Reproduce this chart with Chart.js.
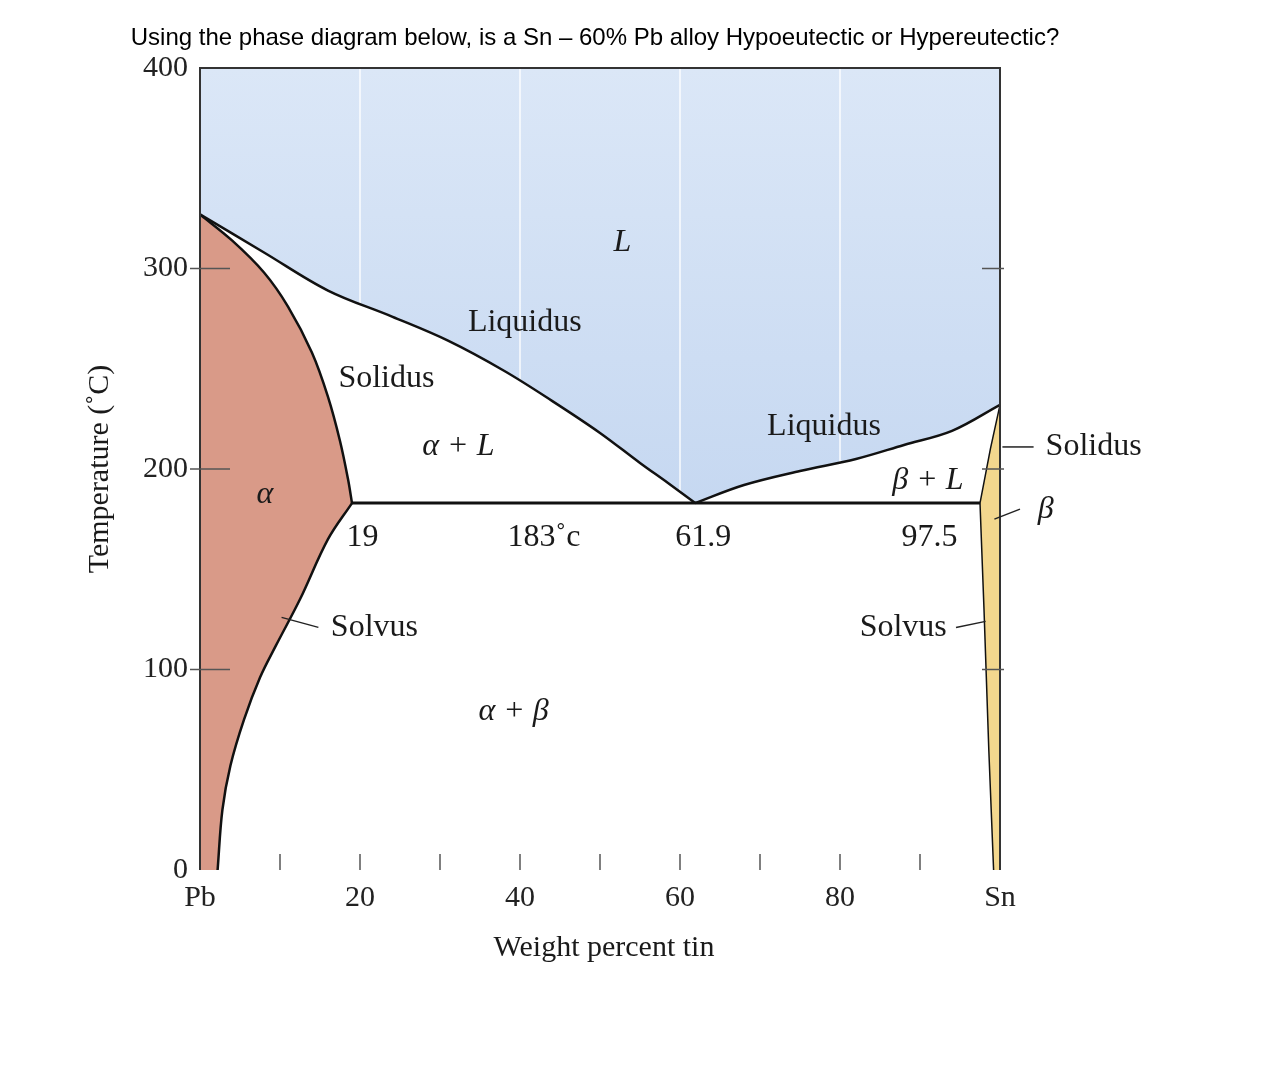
<!DOCTYPE html>
<html><head><meta charset="utf-8">
<script src="https://cdn.jsdelivr.net/npm/chart.js@4/dist/chart.umd.min.js"></script>
<style>html,body{margin:0;padding:0;background:#fff}#w{width:1286px;height:1085px}</style>
</head><body><div id="w"><canvas id="c"></canvas></div>
<script>
// Data (wt% Sn, temperature °C)
const liquidusLeft = [[0,327],[8,308],[16,289],[24,276],[31,264],[38,249],[44,234],[50,218],[55,203],[58.5,193],[61.9,183]];
const liquidusRight = [[61.9,183],[68,192],[75,199],[82,205],[88,212],[94,219],[100,232]];
const solidusLeft = [[0,327],[4,314],[8,298],[11,281],[14,258],[16,236],[17.5,214],[18.5,195],[19,183]];
const solvusLeft = [[19,183],[16,165],[12.5,135],[9.5,112],[7.5,96],[5.5,75],[3.8,52],[2.8,30],[2.2,0]];
const solidusRight = [[100,232],[98.8,210],[97.5,183]];
const solvusRight = [[97.5,183],[98,130],[98.6,60],[99.2,0]];
const eutectic = [[19,183],[97.5,183]];
const xTicks = [0,20,40,60,80,100];
const xTickLabels = {0:'Pb',20:'20',40:'40',60:'60',80:'80',100:'Sn'};
const yTicks = [0,100,200,300,400];
const labels = [
 ['L',52.8,313,'italic'],['Liquidus',40.6,273,''],['Solidus',23.3,245,''],['α + L',32.3,211,'italic'],
 ['α',8.1,187,'italic'],['19',20.3,166,''],['183˚c',43,166,''],['61.9',62.9,166,''],['97.5',91.2,166,''],
 ['Liquidus',78,221,''],['β + L',91,194,'italic'],['Solidus',111.7,211,''],['β',105.7,180,'italic'],
 ['Solvus',21.8,121,''],['Solvus',87.9,121,''],['α + β',39.2,79,'italic']
];
const pts = a => a.map(p=>({x:p[0],y:p[1]}));
const serif = '"Liberation Serif","DejaVu Serif",serif';

const plug = {
 id:'phase',
 beforeDatasetsDraw(ch){
  const {ctx,scales:{x,y}}=ch;
  const P=(a)=>{ctx.beginPath();a.forEach((p,i)=>{const X=x.getPixelForValue(p[0]),Y=y.getPixelForValue(p[1]);i?ctx.lineTo(X,Y):ctx.moveTo(X,Y);});ctx.closePath();};
  ctx.save();
  // liquid region
  const g=ctx.createLinearGradient(0,y.getPixelForValue(400),0,y.getPixelForValue(183));
  g.addColorStop(0,'#dbe7f7');g.addColorStop(1,'#c6d8f1');
  ctx.fillStyle=g;
  P([[0,400],...liquidusLeft,...liquidusRight.slice(1),[100,400]]);ctx.fill();
  // white grid lines in liquid
  ctx.strokeStyle='rgba(255,255,255,0.9)';ctx.lineWidth=1.5;
  [20,40,60,80].forEach(v=>{ctx.beginPath();ctx.moveTo(x.getPixelForValue(v),y.getPixelForValue(400));ctx.lineTo(x.getPixelForValue(v),y.getPixelForValue(0));ctx.stroke();});
  ctx.strokeStyle='rgba(215,215,215,0.5)';
  // alpha region
  ctx.fillStyle='#d99a88';
  P([...solidusLeft,...solvusLeft.slice(1),[0,0]]);ctx.fill();
  // beta region
  ctx.fillStyle='#f3d78e';
  P([[100,232],...solidusRight.slice(1),...solvusRight.slice(1),[100,0]]);ctx.fill();
  ctx.restore();
 },
 afterDatasetsDraw(ch){
  const {ctx,scales:{x,y},chartArea:a}=ch;
  const X=v=>x.getPixelForValue(v),Y=v=>y.getPixelForValue(v);
  ctx.save();
  ctx.strokeStyle='#333';ctx.lineWidth=2;
  ctx.beginPath();ctx.moveTo(a.left,a.bottom);ctx.lineTo(a.left,a.top);ctx.lineTo(a.right,a.top);ctx.lineTo(a.right,a.bottom);ctx.stroke();
  ctx.lineWidth=1.5;ctx.strokeStyle='#555';
  for(let v=10;v<100;v+=10){ctx.beginPath();ctx.moveTo(X(v),a.bottom);ctx.lineTo(X(v),a.bottom-16);ctx.stroke();}
  [100,200,300].forEach(v=>{ctx.beginPath();ctx.moveTo(a.left-10,Y(v));ctx.lineTo(a.left+30,Y(v));ctx.stroke();
   ctx.beginPath();ctx.moveTo(a.right-18,Y(v));ctx.lineTo(a.right+4,Y(v));ctx.stroke();});
  // leaders
  const L=(x1,y1,x2,y2)=>{ctx.beginPath();ctx.moveTo(X(x1),Y(y1));ctx.lineTo(X(x2),Y(y2));ctx.stroke();};
  ctx.strokeStyle='#222';ctx.lineWidth=1.5;
  L(100.3,211,104.2,211);L(99.3,175,102.5,180);L(10.2,126,14.8,121);L(94.5,121,98.2,124);
  ctx.fillStyle='#1a1a1a';ctx.textAlign='center';ctx.textBaseline='middle';
  labels.forEach(l=>{ctx.font=(l[3]?'italic ':'')+'32px '+serif;ctx.fillText(l[0],X(l[1]),Y(l[2]));});
  ctx.font='30px '+serif;
  ctx.fillText('Weight percent tin',X(50.5),948);
  ctx.save();ctx.translate(100,Y(200));ctx.rotate(-Math.PI/2);ctx.fillText('Temperature (˚C)',0,0);ctx.restore();
  ctx.font='24px "Liberation Sans",Arial,sans-serif';ctx.fillStyle='#000';
  ctx.fillText('Using the phase diagram below, is a Sn – 60% Pb alloy Hypoeutectic or Hypereutectic?',595,38);
  ctx.restore();
 }
};
const line=(d)=>({data:pts(d),showLine:true,borderColor:'#111',borderWidth:2.5,pointRadius:0,tension:0.35,fill:false});
new Chart(document.getElementById('c'),{
 type:'scatter',
 data:{datasets:[line(liquidusLeft),line(liquidusRight),line(solidusLeft),line(solvusLeft),
   {...line(solidusRight),tension:0,borderWidth:1.5},{...line(solvusRight),tension:0,borderWidth:1.5},{...line(eutectic),tension:0,borderWidth:3}]},
 options:{responsive:true,maintainAspectRatio:false,animation:false,
  layout:{padding:{left:140,top:68,right:286,bottom:85}},
  plugins:{legend:{display:false},tooltip:{enabled:false}},
  scales:{
   x:{type:'linear',min:0,max:100,afterBuildTicks:s=>{s.ticks=xTicks.map(v=>({value:v}));},
      afterFit:s=>{s.height=130;},grid:{display:false},border:{display:false},
      ticks:{padding:2,color:'#222',font:{size:30,family:serif},callback:v=>xTickLabels[v]}},
   y:{type:'linear',min:0,max:400,afterBuildTicks:s=>{s.ticks=yTicks.map(v=>({value:v}));},
      afterFit:s=>{s.width=60;},grid:{display:false},border:{display:false},
      ticks:{padding:4,color:'#222',font:{size:30,family:serif}}}
  }},
 plugins:[plug]
});
</script></body></html>
